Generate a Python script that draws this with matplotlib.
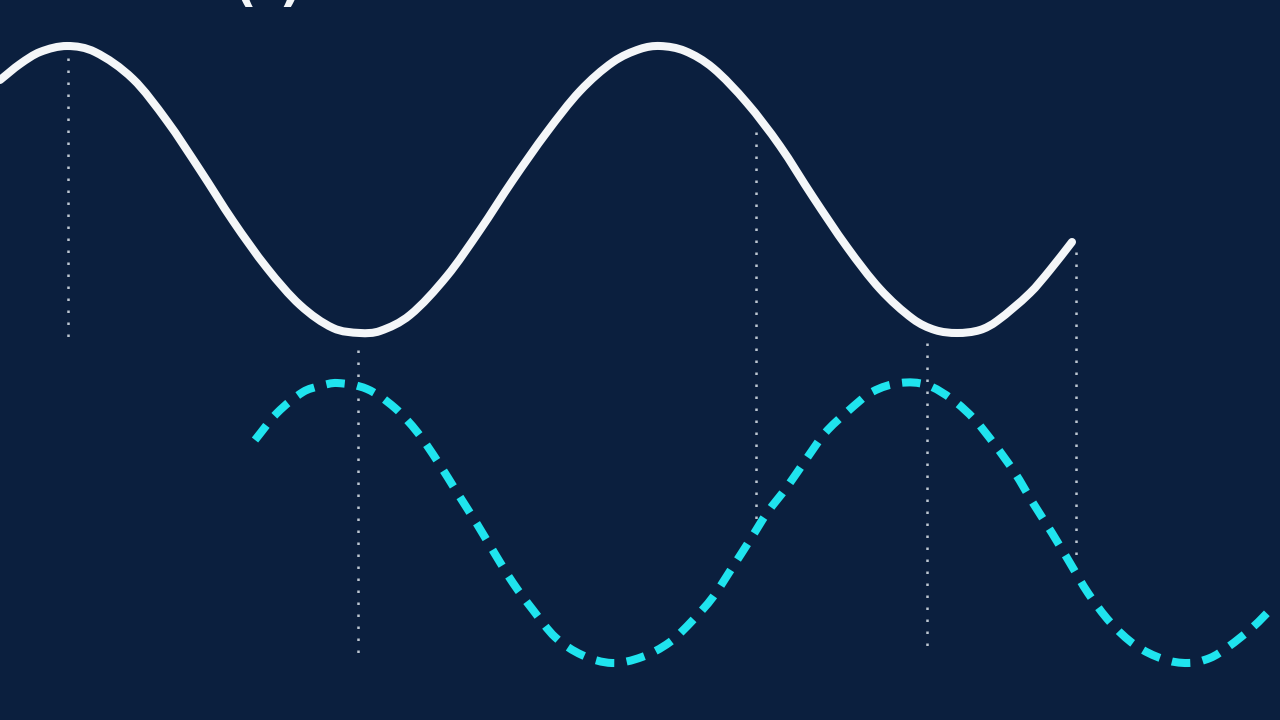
import matplotlib
matplotlib.use("Agg")
import matplotlib.pyplot as plt
from matplotlib.path import Path
from matplotlib.patches import PathPatch

# ---- data (pixel-space readings from the reference) ----
white_x = [0, 20, 40, 67, 95, 133, 167, 200, 233, 267, 300, 333, 360, 380, 410,
           447, 480, 513, 547, 580, 613, 640, 660, 685, 713, 747, 780, 813, 847,
           880, 913, 935, 957, 980, 997, 1030, 1050, 1072]
white_y = [80, 64, 52, 46, 52, 79, 121, 170, 221, 268, 305, 328, 333, 331, 315,
           276, 230, 180, 132, 91, 62, 49, 46, 51, 68, 103, 146, 197, 247,
           289, 319, 330, 333, 330, 321, 293, 270, 242]

cyan_x = [255, 277, 303, 320, 337, 367, 395, 418, 438, 458, 477, 495, 513, 533,
          555, 582, 612, 642, 670, 693, 713, 732, 750, 767, 787, 807, 825, 847,
          872, 900, 927, 953, 975, 995, 1015, 1033, 1052, 1070, 1088, 1110, 1135,
          1163, 1188, 1210, 1228, 1253, 1275]
cyan_y = [440, 413, 392, 386, 383, 389, 408, 433, 462, 494, 524, 554, 583, 610,
          637, 655, 663, 657, 642, 620, 597, 568, 540, 513, 487, 458, 433, 412,
          392, 383, 385, 400, 420, 445, 473, 503, 533, 563, 593, 622, 645,
          659, 663, 658, 647, 627, 605]

guide_x = [68, 358, 756, 927, 1076]
guide_top = [58, 350, 132, 343, 252]
guide_bottom = [340, 655, 523, 655, 558]

label_text = "(t)"

# ---- styling ----
BG = "#0b1f3e"
WHITE = "#f4f6f8"
CYAN = "#1fe4ee"
GUIDE = "#d0d8e2"


def smooth_path(xs, ys):
    """Cubic Bezier path through the read points (tangents from neighbours)."""
    n = len(xs)
    slopes = []
    for i in range(n):
        a = max(i - 1, 0)
        b = min(i + 1, n - 1)
        slopes.append((ys[b] - ys[a]) / (xs[b] - xs[a]))
    verts = [(xs[0], ys[0])]
    codes = [Path.MOVETO]
    for i in range(n - 1):
        dx = (xs[i + 1] - xs[i]) / 3.0
        verts.append((xs[i] + dx, ys[i] + slopes[i] * dx))
        verts.append((xs[i + 1] - dx, ys[i + 1] - slopes[i + 1] * dx))
        verts.append((xs[i + 1], ys[i + 1]))
        codes += [Path.CURVE4] * 3
    return Path(verts, codes)


fig = plt.figure(figsize=(12.8, 7.2), dpi=100, facecolor=BG)
ax = fig.add_axes([0, 0, 1, 1])
ax.set_facecolor(BG)
ax.set_xlim(0, 1280)
ax.set_ylim(720, 0)
ax.axis("off")

for gx, gt, gb in zip(guide_x, guide_top, guide_bottom):
    ax.plot([gx, gx], [gt, gb], color=GUIDE, lw=1.8, alpha=0.9,
            linestyle=(0, (1, 3.8)), dash_capstyle="butt", zorder=1)

white_patch = PathPatch(smooth_path(white_x, white_y), facecolor="none",
                        edgecolor=WHITE, lw=5.8, capstyle="round",
                        joinstyle="round", zorder=3)
ax.add_patch(white_patch)

cyan_patch = PathPatch(smooth_path(cyan_x, cyan_y), facecolor="none",
                       edgecolor=CYAN, lw=5.8, linestyle=(0, (2.3, 1.55)),
                       capstyle="butt", joinstyle="round", zorder=3)
ax.add_patch(cyan_patch)

ax.text(268, 0, label_text, color=WHITE, fontsize=36, fontweight="bold",
        ha="center", va="baseline", clip_on=False, zorder=4)

fig.savefig("out.png", dpi=100, facecolor=BG)
